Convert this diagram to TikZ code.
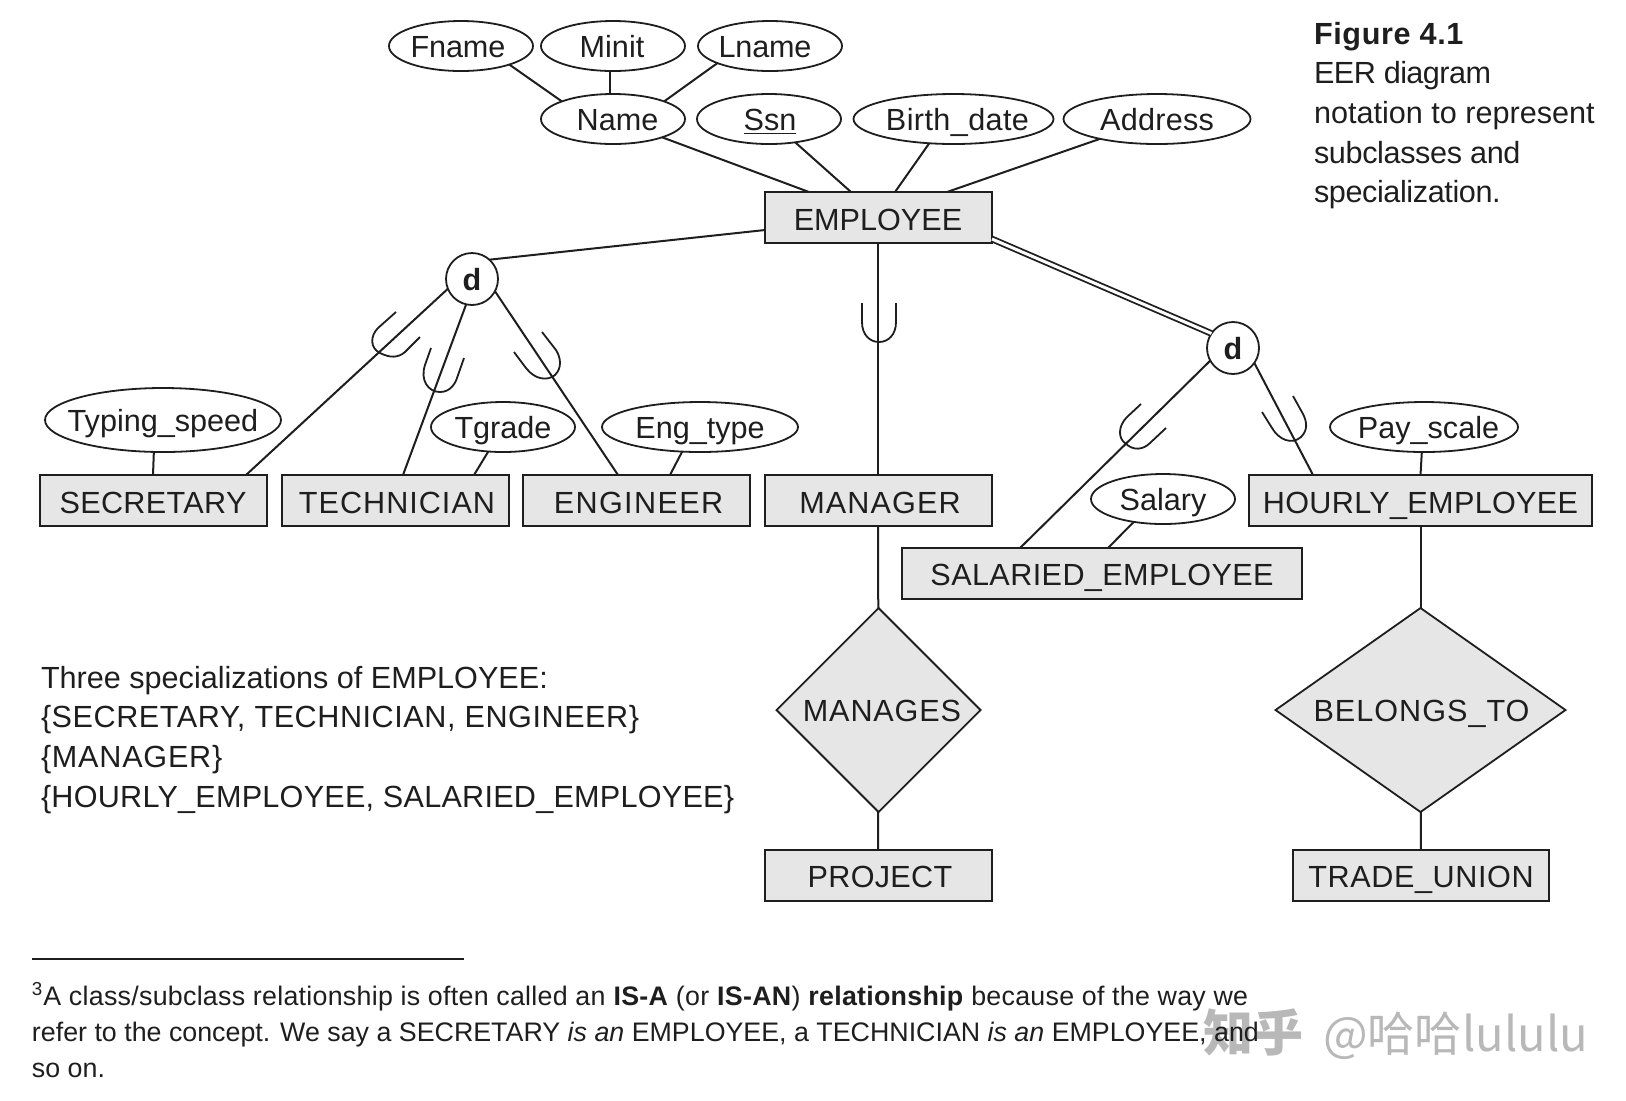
\documentclass[tikz,border=0pt]{standalone}
\usepackage{fontspec}
\setmainfont{Liberation Sans}
\newfontfamily\cjkmark{Noto Sans CJK SC}
\usetikzlibrary{shapes.geometric}
\definecolor{boxgray}{HTML}{E6E6E6}
\definecolor{ink}{HTML}{1E1E1E}
\definecolor{markgray}{HTML}{B8B8B8}
\newcommand{\ovl}[2][0pt]{\makebox[0pt]{\hspace{#1}#2}}
\newcommand{\lsp}[2]{{\addfontfeature{LetterSpace=#1}#2}}
\tikzset{
  every node/.style={inner sep=0pt,outer sep=0pt,text=ink},
  lbl/.style={font=\fontsize{15.3}{18}\selectfont,text height=11pt,text depth=0pt},
  ent/.style={lbl,text height=12.6pt,draw=ink,fill=boxgray,rectangle,minimum height=25.5pt,line width=1pt},
  attr/.style={lbl,text height=11.5pt,draw=ink,fill=white,ellipse,minimum height=25pt,line width=.9pt},
  rel/.style={lbl,draw=ink,fill=boxgray,diamond,minimum height=102pt,line width=.9pt},
  spec/.style={lbl,draw=ink,fill=white,circle,minimum size=26pt,line width=.9pt,font=\fontsize{15.3}{18}\selectfont\bfseries},
  conn/.style={draw=ink,line width=1pt},
  subsetarc/.style={draw=ink,line width=.9pt},
  para/.style={anchor=north west,align=left,font=\fontsize{15.3}{19.85}\selectfont},
  foot/.style={anchor=north west,align=left,font=\fontsize{13.4}{18.1}\selectfont},
}
\begin{document}
\begin{tikzpicture}[x=0.5pt,y=-0.5pt]
\useasboundingbox (0,0) rectangle (1626,1100);
% attributes
\node[attr,minimum width=72pt] (fname) at (461,46) {\ovl[-3pt]{\lsp{-0.5}{Fname}}};
\node[attr,minimum width=72pt] (minit) at (613,46) {\ovl[-1pt]{Minit}};
\node[attr,minimum width=72pt] (lname) at (770,46) {\ovl[-5pt]{\lsp{-0.5}{Lname}}};
\node[attr,minimum width=72pt] (name) at (613,119) {\ovl[4.5pt]{Name}};
\node[attr,minimum width=72pt] (ssn) at (769,119) {\ovl[1pt]{\underline{Ssn}}};
\node[attr,minimum width=100pt] (bdate) at (953.5,119) {\ovl[4pt]{\lsp{1.3}{Birth\_date}}};
\node[attr,minimum width=93.5pt] (addr) at (1157,119) {\lsp{0.8}{Address}};
\node[attr,minimum width=118pt,minimum height=32pt] (tspeed) at (163,420) {\ovl{Typing\_speed}};
\node[attr,minimum width=72pt] (tgrade) at (503,427) {\ovl{Tgrade}};
\node[attr,minimum width=98pt] (engtype) at (700,427) {\ovl{Eng\_type}};
\node[attr,minimum width=94pt] (payscale) at (1424,427) {\ovl[4.5pt]{Pay\_scale}};
\node[attr,minimum width=72pt] (salary) at (1163,499) {\ovl{Salary}};
% entities
\node[ent,minimum width=113.5pt] (emp) at (878,217.5) {EMPLOYEE};
\node[ent,minimum width=113.5pt] (sec) at (153,500.5) {\lsp{1.1}{SECRETARY}};
\node[ent,minimum width=113.5pt] (tech) at (395,500.5) {\ovl[2pt]{\lsp{3.3}{TECHNICIAN}}};
\node[ent,minimum width=113.5pt] (eng) at (636.5,500.5) {\ovl[2pt]{\lsp{4.5}{ENGINEER}}};
\node[ent,minimum width=113.5pt] (mgr) at (878,500.5) {\ovl[2pt]{\lsp{3.7}{MANAGER}}};
\node[ent,minimum width=171.5pt] (hourly) at (1420.5,500.5) {\lsp{1.1}{HOURLY\_EMPLOYEE}};
\node[ent,minimum width=200pt] (sal) at (1102,573) {\lsp{1.3}{SALARIED\_EMPLOYEE}};
\node[ent,minimum width=113.5pt] (proj) at (878,875) {\ovl[2pt]{\lsp{1}{PROJECT}}};
\node[ent,minimum width=128pt] (trade) at (1421,875) {\lsp{2}{TRADE\_UNION}};
% relationships
\node[rel,minimum width=102pt] (manages) at (878.5,710) {\ovl[3.5pt]{\lsp{2.8}{MANAGES}}};
\node[rel,minimum width=145pt] (belongs) at (1420.5,710) {\ovl[1pt]{\lsp{3.3}{BELONGS\_TO}}};
% specialization circles
\node[spec] (d1) at (472,279) {d};
\node[spec] (d2) at (1233,348) {d};
% free ends on the rectangle sides
\coordinate (e1) at (809,192);
\coordinate (e2) at (851,192);
\coordinate (e3) at (895,192);
\coordinate (e4) at (947,192);
\coordinate (e5) at (765,230);
\coordinate (e6) at (992,239);
\coordinate (s1) at (246,475);
\coordinate (t1) at (403,475);
\coordinate (t2) at (474,475);
\coordinate (g1) at (618,475);
\coordinate (g2) at (670,475);
\coordinate (a1) at (1020,548);
\coordinate (a2) at (1108,548);
\coordinate (h1) at (1313,475);
% connectors
\draw[conn] (fname.-21) -- (name.161);
\draw[conn] (minit.-97) -- (name.97);
\draw[conn] (lname.198) -- (name.19);
\draw[conn] (name) -- (e1);
\draw[conn] (ssn) -- (e2);
\draw[conn] (bdate.225) -- (e3);
\draw[conn] (addr) -- (e4);
\draw[conn] (d1.48) -- (e5);
\draw[conn] (emp) -- (mgr);
\draw[draw=ink,line width=.9pt,double=white,double distance=1.5pt] (e6) -- (d2.146);
\draw[conn] (d1.202) -- (s1);
\draw[conn] (d1.257) -- (t1);
\draw[conn] (d1.-28) -- (g1);
\draw[conn] (d2.209) -- (a1);
\draw[conn] (d2.-35) -- (h1);
\draw[conn] (tspeed.-106) -- (sec.north);
\draw[conn] (tgrade.239) -- (t2);
\draw[conn] (engtype.234) -- (g2);
\draw[conn] (payscale.-95) -- (hourly.north);
\draw[conn] (salary.218) -- (a2);
\draw[conn] (mgr) -- (manages);
\draw[conn] (manages) -- (proj);
\draw[conn] (hourly) -- (belongs);
\draw[conn] (belongs) -- (trade);
% subset arcs
\draw[subsetarc] (396,312) -- (378,328) .. controls (370,336) and (370,348) .. (380,353) .. controls (390,358) and (398,358) .. (405,352) -- (420,337);
\draw[subsetarc] (431,348) -- (425,365) .. controls (420,380) and (428,392) .. (440,392) .. controls (450,392) and (455,384) .. (457,378) -- (464,358);
\draw[subsetarc] (514,352) -- (526,368) .. controls (535,380) and (548,381) .. (555,375) .. controls (562,368) and (561,358) .. (556,350) -- (542,332);
\draw[subsetarc] (862,303) -- (862,322) .. controls (862,335) and (870,342) .. (879,342) .. controls (888,342) and (896,335) .. (896,322) -- (896,303);
\draw[subsetarc] (1141,404) -- (1127,417) .. controls (1118,426) and (1118,438) .. (1125,443) .. controls (1133,451) and (1143,450) .. (1150,443) -- (1166,428);
\draw[subsetarc] (1262,412) -- (1272,428) .. controls (1279,440) and (1292,445) .. (1301,437) .. controls (1308,430) and (1307,422) .. (1303,414) -- (1293,396);
% texts
\node[para] (caption) at (1314,22) {\lsp{2}{\textbf{Figure 4.1}}\\\lsp{-1.8}{EER diagram}\\notation to represent\\\lsp{-1.2}{subclasses and}\\\lsp{-1.3}{specialization.}};
\node[para] (three) at (41,666) {Three specializations of EMPLOYEE:\\\lsp{1.8}{\{SECRETARY, TECHNICIAN, ENGINEER\}}\\\lsp{2.5}{\{MANAGER\}}\\\lsp{0.8}{\{HOURLY\_EMPLOYEE, SALARIED\_EMPLOYEE\}}};
% footnote
\coordinate (r1) at (32,959);
\coordinate (r2) at (464,959);
\draw[draw=ink,line width=.6pt] (r1) -- (r2);
\node[anchor=base west,text=markgray,font=\cjkmark\bfseries\fontsize{25}{25}\selectfont] (mark1) at (1203,1051) {知乎};
\node[anchor=base west,text=markgray,font=\cjkmark\fontsize{23.6}{24}\selectfont] (mark2) at (1323,1051) {@哈哈lululu};
\node[foot] (note) at (32,982) {\lsp{1}{\textsuperscript{3}A class/subclass relationship is often called an \textbf{IS-A} (or \textbf{IS-AN}) \textbf{relationship} because of the way we}\\refer to the concept. We say a SECRETARY \textit{is an} EMPLOYEE, a TECHNICIAN \textit{is an} EMPLOYEE, and\\so on.};
\end{tikzpicture}
\end{document}
